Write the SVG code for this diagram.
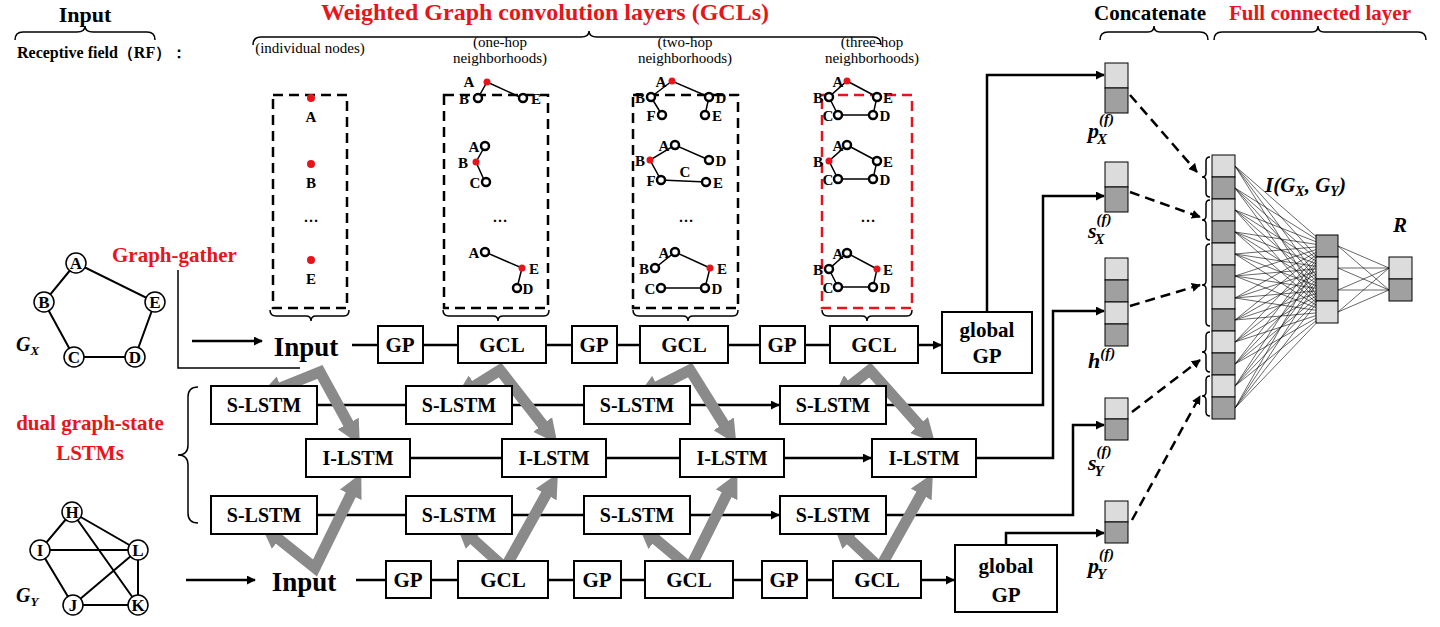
<svg xmlns="http://www.w3.org/2000/svg" width="1440" height="627" viewBox="0 0 1440 627">
<defs>
<style>
text{font-family:"Liberation Serif","Times New Roman",serif;font-weight:bold;fill:#000}
.red{fill:#e8141b}
.box{fill:#fff;stroke:#000;stroke-width:2}
.ln{fill:none;stroke:#000;stroke-width:2.5}
.thin{fill:none;stroke:#000;stroke-width:1.5}
.dash{fill:none;stroke:#000;stroke-width:2.5;stroke-dasharray:10 6}
.dashr{fill:none;stroke:#e8141b;stroke-width:2.5;stroke-dasharray:10 6}
.gray{fill:none;stroke:#8a8a8a;stroke-width:11;stroke-linejoin:miter}
.lt{fill:#dcdcdc;stroke:#000;stroke-width:1}
.dk{fill:#a0a0a0;stroke:#000;stroke-width:1}
.nd{fill:#fff;stroke:#000;stroke-width:2.5}
.rd{fill:#e8141b}
.fc{stroke:#000;stroke-width:0.6}
.g{font-size:15px}
</style>
<marker id="ah" viewBox="0 0 10 10" refX="9" refY="5" markerWidth="9" markerHeight="9" markerUnits="userSpaceOnUse" orient="auto"><path d="M0,0L10,5L0,10z" fill="#000"/></marker>
<marker id="gh" viewBox="0 0 10 10" refX="5" refY="5" markerWidth="24" markerHeight="24" markerUnits="userSpaceOnUse" orient="auto-start-reverse"><path d="M0,0L10,5L0,10z" fill="#8a8a8a"/></marker>
</defs>

<g id="headers">
<text x="85" y="22" font-size="22" text-anchor="middle">Input</text>
<path class="thin" d="M15,40 q0,-8 8,-8 h54 q8,0 8,-6 q0,6 8,6 h54 q8,0 8,8"/>
<text x="545" y="20" font-size="24" text-anchor="middle" class="red">Weighted Graph convolution layers (GCLs)</text>
<path class="thin" d="M253,45 q0,-8 8,-8 h320 q8,0 8,-6 q0,6 8,6 h276 q8,0 8,8"/>
<text x="17" y="58" font-size="16">Receptive field（RF）：</text>
<text x="310" y="53" font-size="15" font-weight="normal" text-anchor="middle" style="font-weight:normal">(individual nodes)</text>
<text x="500" y="47" font-size="15" text-anchor="middle" style="font-weight:normal">(one-hop</text>
<text x="500" y="63" font-size="15" text-anchor="middle" style="font-weight:normal">neighborhoods)</text>
<text x="685" y="47" font-size="15" text-anchor="middle" style="font-weight:normal">(two-hop</text>
<text x="685" y="63" font-size="15" text-anchor="middle" style="font-weight:normal">neighborhoods)</text>
<text x="872" y="47" font-size="15" text-anchor="middle" style="font-weight:normal">(three-hop</text>
<text x="872" y="63" font-size="15" text-anchor="middle" style="font-weight:normal">neighborhoods)</text>
<text x="1150" y="20" font-size="21" text-anchor="middle">Concatenate</text>
<text x="1320" y="20" font-size="21" text-anchor="middle" class="red">Full connected layer</text>
<path class="thin" d="M1100,40 q0,-8 8,-8 h40 q6,0 6,-6 q0,6 6,6 h40 q8,0 8,8"/>
<path class="thin" d="M1214,40 q0,-8 8,-8 h90 q6,0 6,-6 q0,6 6,6 h94 q8,0 8,8"/>
<text x="112" y="262" font-size="21" class="red">Graph-gather</text>
<text x="90" y="430" font-size="21" class="red" text-anchor="middle">dual graph-state</text>
<text x="90" y="460" font-size="21" class="red" text-anchor="middle">LSTMs</text>
<path class="thin" d="M198,387 q-10,0 -10,10 v48 q0,10 -10,10 q10,0 10,10 v48 q0,10 10,10"/>
</g>

<g id="rf-boxes">
<rect class="dash" x="273" y="95" width="74" height="213"/>
<rect class="dash" x="444" y="95" width="104" height="213"/>
<rect class="dash" x="633" y="95" width="105" height="213"/>
<rect class="dashr" x="822" y="95" width="90" height="213"/>
<path class="thin" d="M270,310 q0,6 6,6 h30 q5,0 5,5 q0,-5 5,-5 h28 q5,0 5,-6"/>
<path class="thin" d="M443,310 q0,6 6,6 h44 q5,0 5,5 q0,-5 5,-5 h41 q5,0 5,-6"/>
<path class="thin" d="M633,310 q0,6 6,6 h44 q5,0 5,5 q0,-5 5,-5 h40 q5,0 5,-6"/>
<path class="thin" d="M822,310 q0,6 6,6 h34 q5,0 5,5 q0,-5 5,-5 h35 q5,0 5,-6"/>
<!-- box1 -->
<circle class="rd" cx="311" cy="98" r="4"/><text class="g" x="311" y="122" text-anchor="middle">A</text>
<circle class="rd" cx="311" cy="164" r="4"/><text class="g" x="311" y="188" text-anchor="middle">B</text>
<text class="g" x="311" y="222" text-anchor="middle">…</text>
<circle class="rd" cx="311" cy="260" r="4"/><text class="g" x="311" y="284" text-anchor="middle">E</text>
<text class="g" x="500" y="222" text-anchor="middle">…</text>
<text class="g" x="686" y="222" text-anchor="middle">…</text>
<text class="g" x="868" y="222" text-anchor="middle">…</text>
<!-- box2 g1 -->
<path class="thin" d="M478,98L487,82L522,98"/>
<circle class="rd" cx="487" cy="82" r="3.5"/><circle class="nd" cx="478" cy="98" r="4"/><circle class="nd" cx="523" cy="98" r="4"/>
<text class="g" x="469" y="87" text-anchor="middle">A</text><text class="g" x="464" y="104" text-anchor="middle">B</text><text class="g" x="536" y="104" text-anchor="middle">E</text>
<!-- box2 g2 -->
<path class="thin" d="M485,146L476,162L485,182"/>
<circle class="nd" cx="485" cy="146" r="4"/><circle class="rd" cx="476" cy="162" r="3.5"/><circle class="nd" cx="486" cy="182" r="4"/>
<text class="g" x="474" y="152" text-anchor="middle">A</text><text class="g" x="463" y="168" text-anchor="middle">B</text><text class="g" x="475" y="188" text-anchor="middle">C</text>
<!-- box2 g3 -->
<path class="thin" d="M485,252L522,268L517,288"/>
<circle class="nd" cx="485" cy="252" r="4"/><circle class="rd" cx="522" cy="268" r="3.5"/><circle class="nd" cx="517" cy="288" r="4"/>
<text class="g" x="474" y="258" text-anchor="middle">A</text><text class="g" x="534" y="274" text-anchor="middle">E</text><text class="g" x="528" y="294" text-anchor="middle">D</text>
<!-- box3 g1 -->
<path class="thin" d="M651,97L662,115M651,97L672,81L709,97L705,115"/>
<circle class="rd" cx="672" cy="81" r="3.5"/><circle class="nd" cx="651" cy="97" r="4"/><circle class="nd" cx="709" cy="97" r="4"/><circle class="nd" cx="662" cy="115" r="4"/><circle class="nd" cx="705" cy="115" r="4"/>
<text class="g" x="661" y="87" text-anchor="middle">A</text><text class="g" x="640" y="103" text-anchor="middle">B</text><text class="g" x="721" y="103" text-anchor="middle">D</text><text class="g" x="651" y="121" text-anchor="middle">F</text><text class="g" x="717" y="121" text-anchor="middle">E</text>
<!-- box3 g2 -->
<path class="thin" d="M709,160L675,145L650,160L661,180L706,182"/>
<circle class="nd" cx="675" cy="145" r="4"/><circle class="rd" cx="650" cy="160" r="3.5"/><circle class="nd" cx="709" cy="160" r="4"/><circle class="nd" cx="661" cy="180" r="4"/><circle class="nd" cx="706" cy="182" r="4"/>
<text class="g" x="664" y="151" text-anchor="middle">A</text><text class="g" x="640" y="166" text-anchor="middle">B</text><text class="g" x="721" y="166" text-anchor="middle">D</text><text class="g" x="651" y="186" text-anchor="middle">F</text><text class="g" x="685" y="177" text-anchor="middle">C</text><text class="g" x="718" y="188" text-anchor="middle">E</text>
<!-- box3 g3 -->
<path class="thin" d="M655,268L675,252L710,268L705,288L661,288"/>
<circle class="nd" cx="675" cy="252" r="4"/><circle class="nd" cx="655" cy="268" r="4"/><circle class="rd" cx="710" cy="268" r="3.5"/><circle class="nd" cx="661" cy="288" r="4"/><circle class="nd" cx="705" cy="288" r="4"/>
<text class="g" x="664" y="258" text-anchor="middle">A</text><text class="g" x="644" y="274" text-anchor="middle">B</text><text class="g" x="722" y="274" text-anchor="middle">E</text><text class="g" x="650" y="294" text-anchor="middle">C</text><text class="g" x="717" y="294" text-anchor="middle">D</text>
<!-- box4 -->
<g id="pent1">
<path class="thin" d="M847,81L877,97L873,115L838,115L829,97Z"/>
<circle class="rd" cx="847" cy="81" r="3.5"/><circle class="nd" cx="829" cy="97" r="4"/><circle class="nd" cx="877" cy="97" r="4"/><circle class="nd" cx="838" cy="115" r="4"/><circle class="nd" cx="873" cy="115" r="4"/>
<text class="g" x="838" y="87" text-anchor="middle">A</text><text class="g" x="818" y="103" text-anchor="middle">B</text><text class="g" x="888" y="103" text-anchor="middle">E</text><text class="g" x="828" y="121" text-anchor="middle">C</text><text class="g" x="885" y="121" text-anchor="middle">D</text>
</g>
<g transform="translate(0,64)">
<path class="thin" d="M847,81L877,97L873,115L838,115L829,97Z"/>
<circle class="nd" cx="847" cy="81" r="4"/><circle class="rd" cx="829" cy="97" r="3.5"/><circle class="nd" cx="877" cy="97" r="4"/><circle class="nd" cx="838" cy="115" r="4"/><circle class="nd" cx="873" cy="115" r="4"/>
<text class="g" x="838" y="87" text-anchor="middle">A</text><text class="g" x="818" y="103" text-anchor="middle">B</text><text class="g" x="888" y="103" text-anchor="middle">E</text><text class="g" x="828" y="121" text-anchor="middle">C</text><text class="g" x="885" y="121" text-anchor="middle">D</text>
</g>
<g transform="translate(0,172)">
<path class="thin" d="M847,81L877,97L873,115L838,115L829,97Z"/>
<circle class="nd" cx="847" cy="81" r="4"/><circle class="nd" cx="829" cy="97" r="4"/><circle class="rd" cx="877" cy="97" r="3.5"/><circle class="nd" cx="838" cy="115" r="4"/><circle class="nd" cx="873" cy="115" r="4"/>
<text class="g" x="838" y="87" text-anchor="middle">A</text><text class="g" x="818" y="103" text-anchor="middle">B</text><text class="g" x="888" y="103" text-anchor="middle">E</text><text class="g" x="828" y="121" text-anchor="middle">C</text><text class="g" x="885" y="121" text-anchor="middle">D</text>
</g>
</g>

<g id="graphs">
<path class="ln" d="M76,263L44,302L74,357H135L155,302Z" style="stroke-width:2"/>
<g font-size="17">
<circle class="nd" cx="76" cy="263" r="10" style="stroke-width:1.5"/><text x="76" y="269" text-anchor="middle" font-size="17">A</text>
<circle class="nd" cx="44" cy="302" r="10" style="stroke-width:1.5"/><text x="44" y="308" text-anchor="middle" font-size="17">B</text>
<circle class="nd" cx="155" cy="302" r="10" style="stroke-width:1.5"/><text x="155" y="308" text-anchor="middle" font-size="17">E</text>
<circle class="nd" cx="74" cy="357" r="10" style="stroke-width:1.5"/><text x="74" y="363" text-anchor="middle" font-size="17">C</text>
<circle class="nd" cx="135" cy="357" r="10" style="stroke-width:1.5"/><text x="135" y="363" text-anchor="middle" font-size="17">D</text>
</g>
<text x="16" y="351" font-size="20" font-style="italic">G<tspan font-size="13" dy="4">X</tspan></text>
<path class="ln" style="stroke-width:2" d="M72,512L40,550L73,605H138L138,550L72,512L138,605M40,550H138M73,605L138,550"/>
<circle class="nd" cx="72" cy="512" r="10" style="stroke-width:1.5"/><text x="72" y="518" text-anchor="middle" font-size="17">H</text>
<circle class="nd" cx="40" cy="550" r="10" style="stroke-width:1.5"/><text x="40" y="556" text-anchor="middle" font-size="17">I</text>
<circle class="nd" cx="138" cy="550" r="10" style="stroke-width:1.5"/><text x="138" y="556" text-anchor="middle" font-size="17">L</text>
<circle class="nd" cx="73" cy="605" r="10" style="stroke-width:1.5"/><text x="73" y="611" text-anchor="middle" font-size="17">J</text>
<circle class="nd" cx="138" cy="605" r="10" style="stroke-width:1.5"/><text x="138" y="611" text-anchor="middle" font-size="17">K</text>
<text x="16" y="602" font-size="20" font-style="italic">G<tspan font-size="13" dy="4">Y</tspan></text>
</g>

<g id="connectors">
<path class="ln" style="stroke-width:1.5" d="M178,270V368H300"/>
<path class="ln" marker-end="url(#ah)" d="M192,341H262"/>
<path class="ln" marker-end="url(#ah)" d="M186,580H255"/>
<path class="ln" marker-end="url(#ah)" d="M352,345H377M423,345H457M546,345H571M617,345H639M728,345H759M805,345H829M918,345H941"/>
<path class="ln" marker-end="url(#ah)" d="M356,580H385M431,580H457M548,580H573M621,580H644M733,580H761M807,580H832M921,580H954"/>
<path class="ln" marker-end="url(#ah)" d="M317,405H405M512,405H583M690,405H779"/>
<path class="ln" marker-end="url(#ah)" d="M410,458H501M606,458H679M784,458H871"/>
<path class="ln" marker-end="url(#ah)" d="M317,515H405M512,515H583M690,515H779"/>
<path class="ln" marker-end="url(#ah)" d="M987,312V75H1104"/>
<path class="ln" marker-end="url(#ah)" d="M886,405H1043V196H1104"/>
<path class="ln" marker-end="url(#ah)" d="M976,458H1053V311H1104"/>
<path class="ln" marker-end="url(#ah)" d="M886,515H1073V425H1104"/>
<path class="ln" marker-end="url(#ah)" d="M1006,545V533H1104"/>
<path class="dash" marker-end="url(#ah)" d="M1130,95L1197,172"/>
<path class="dash" marker-end="url(#ah)" d="M1130,192L1200,217"/>
<path class="dash" marker-end="url(#ah)" d="M1130,306L1200,285"/>
<path class="dash" marker-end="url(#ah)" d="M1132,412L1200,360"/>
<path class="dash" marker-end="url(#ah)" d="M1132,520L1200,396"/>
<g id="gray">
<polyline class="gray" marker-start="url(#gh)" marker-end="url(#gh)" points="270,392 320,372 354,434"/>
<polyline class="gray" marker-start="url(#gh)" marker-end="url(#gh)" points="465,392 500,370 550,434"/>
<polyline class="gray" marker-start="url(#gh)" marker-end="url(#gh)" points="647,392 690,370 730,434"/>
<polyline class="gray" marker-start="url(#gh)" marker-end="url(#gh)" points="842,392 870,370 927,434"/>
<polyline class="gray" marker-start="url(#gh)" marker-end="url(#gh)" points="270,532 315,568 356,484"/>
<polyline class="gray" marker-start="url(#gh)" marker-end="url(#gh)" points="465,532 505,568 552,484"/>
<polyline class="gray" marker-start="url(#gh)" marker-end="url(#gh)" points="647,532 690,568 732,484"/>
<polyline class="gray" marker-start="url(#gh)" marker-end="url(#gh)" points="842,532 880,568 927,484"/>
</g>
</g>

<g id="top-row">
<text x="306" y="356" font-size="27" text-anchor="middle">Input</text>
<rect class="box" x="378" y="326" width="45" height="37"/><text x="400" y="352" font-size="21" text-anchor="middle">GP</text>
<rect class="box" x="458" y="326" width="88" height="37"/><text x="502" y="352" font-size="21" text-anchor="middle">GCL</text>
<rect class="box" x="572" y="326" width="45" height="37"/><text x="594" y="352" font-size="21" text-anchor="middle">GP</text>
<rect class="box" x="640" y="326" width="88" height="37"/><text x="684" y="352" font-size="21" text-anchor="middle">GCL</text>
<rect class="box" x="760" y="326" width="45" height="37"/><text x="782" y="352" font-size="21" text-anchor="middle">GP</text>
<rect class="box" x="830" y="326" width="88" height="37"/><text x="874" y="352" font-size="21" text-anchor="middle">GCL</text>
<rect class="box" x="942" y="312" width="90" height="61"/><text x="987" y="337" font-size="21" text-anchor="middle">global</text><text x="987" y="363" font-size="21" text-anchor="middle">GP</text>
</g>
<g id="bottom-row">
<text x="304" y="591" font-size="27" text-anchor="middle">Input</text>
<rect class="box" x="386" y="561" width="45" height="37"/><text x="408" y="587" font-size="21" text-anchor="middle">GP</text>
<rect class="box" x="458" y="561" width="90" height="37"/><text x="503" y="587" font-size="21" text-anchor="middle">GCL</text>
<rect class="box" x="574" y="561" width="47" height="37"/><text x="597" y="587" font-size="21" text-anchor="middle">GP</text>
<rect class="box" x="645" y="561" width="88" height="37"/><text x="689" y="587" font-size="21" text-anchor="middle">GCL</text>
<rect class="box" x="762" y="561" width="45" height="37"/><text x="784" y="587" font-size="21" text-anchor="middle">GP</text>
<rect class="box" x="833" y="561" width="88" height="37"/><text x="877" y="587" font-size="21" text-anchor="middle">GCL</text>
<rect class="box" x="955" y="545" width="102" height="67"/><text x="1006" y="573" font-size="21" text-anchor="middle">global</text><text x="1006" y="602" font-size="21" text-anchor="middle">GP</text>
</g>
<g id="lstm">
<rect class="box" x="211" y="386" width="106" height="38"/><text x="264" y="412" font-size="20" text-anchor="middle">S-LSTM</text>
<rect class="box" x="406" y="386" width="106" height="38"/><text x="459" y="412" font-size="20" text-anchor="middle">S-LSTM</text>
<rect class="box" x="584" y="386" width="106" height="38"/><text x="637" y="412" font-size="20" text-anchor="middle">S-LSTM</text>
<rect class="box" x="780" y="386" width="106" height="38"/><text x="833" y="412" font-size="20" text-anchor="middle">S-LSTM</text>
<rect class="box" x="306" y="439" width="104" height="38"/><text x="358" y="465" font-size="20" text-anchor="middle">I-LSTM</text>
<rect class="box" x="502" y="439" width="104" height="38"/><text x="554" y="465" font-size="20" text-anchor="middle">I-LSTM</text>
<rect class="box" x="680" y="439" width="104" height="38"/><text x="732" y="465" font-size="20" text-anchor="middle">I-LSTM</text>
<rect class="box" x="872" y="439" width="104" height="38"/><text x="924" y="465" font-size="20" text-anchor="middle">I-LSTM</text>
<rect class="box" x="211" y="496" width="106" height="38"/><text x="264" y="522" font-size="20" text-anchor="middle">S-LSTM</text>
<rect class="box" x="406" y="496" width="106" height="38"/><text x="459" y="522" font-size="20" text-anchor="middle">S-LSTM</text>
<rect class="box" x="584" y="496" width="106" height="38"/><text x="637" y="522" font-size="20" text-anchor="middle">S-LSTM</text>
<rect class="box" x="780" y="496" width="106" height="38"/><text x="833" y="522" font-size="20" text-anchor="middle">S-LSTM</text>
</g>

<g id="features">
<rect class="lt" x="1105" y="63" width="23" height="25"/><rect class="dk" x="1105" y="88" width="23" height="25"/>
<text x="1088" y="138" font-size="22" font-style="italic">p<tspan font-size="15" dy="-14">(f)</tspan><tspan font-size="15" dx="-17" dy="20">X</tspan></text>
<rect class="lt" x="1105" y="162" width="23" height="25"/><rect class="dk" x="1105" y="187" width="23" height="25"/>
<text x="1088" y="238" font-size="22" font-style="italic">s<tspan font-size="15" dy="-14">(f)</tspan><tspan font-size="15" dx="-17" dy="20">X</tspan></text>
<rect class="lt" x="1105" y="258" width="23" height="22"/><rect class="dk" x="1105" y="280" width="23" height="22"/><rect class="lt" x="1105" y="302" width="23" height="22"/><rect class="dk" x="1105" y="324" width="23" height="22"/>
<text x="1088" y="368" font-size="22" font-style="italic">h<tspan font-size="15" dy="-10">(f)</tspan></text>
<rect class="lt" x="1105" y="398" width="23" height="21"/><rect class="dk" x="1105" y="419" width="23" height="21"/>
<text x="1088" y="470" font-size="22" font-style="italic">s<tspan font-size="15" dy="-14">(f)</tspan><tspan font-size="15" dx="-17" dy="20">Y</tspan></text>
<rect class="lt" x="1105" y="501" width="23" height="21"/><rect class="dk" x="1105" y="522" width="23" height="21"/>
<text x="1088" y="573" font-size="22" font-style="italic">p<tspan font-size="15" dy="-14">(f)</tspan><tspan font-size="15" dx="-17" dy="20">Y</tspan></text>
</g>

<g id="fc">
<g class="fc">
<path d="M1235,166L1327,246M1235,166L1327,268M1235,166L1327,290M1235,166L1327,312M1235,188L1327,246M1235,188L1327,268M1235,188L1327,290M1235,188L1327,312M1235,210L1327,246M1235,210L1327,268M1235,210L1327,290M1235,210L1327,312M1235,232L1327,246M1235,232L1327,268M1235,232L1327,290M1235,232L1327,312M1235,254L1327,246M1235,254L1327,268M1235,254L1327,290M1235,254L1327,312M1235,276L1327,246M1235,276L1327,268M1235,276L1327,290M1235,276L1327,312M1235,298L1327,246M1235,298L1327,268M1235,298L1327,290M1235,298L1327,312M1235,320L1327,246M1235,320L1327,268M1235,320L1327,290M1235,320L1327,312M1235,342L1327,246M1235,342L1327,268M1235,342L1327,290M1235,342L1327,312M1235,364L1327,246M1235,364L1327,268M1235,364L1327,290M1235,364L1327,312M1235,386L1327,246M1235,386L1327,268M1235,386L1327,290M1235,386L1327,312M1235,408L1327,246M1235,408L1327,268M1235,408L1327,290M1235,408L1327,312"/>
<path d="M1338,246L1389,268M1338,246L1389,290M1338,268L1389,268M1338,268L1389,290M1338,290L1389,268M1338,290L1389,290M1338,312L1389,268M1338,312L1389,290"/>
</g>
<rect class="lt" x="1212" y="155" width="23" height="22"/><rect class="dk" x="1212" y="177" width="23" height="22"/>
<rect class="lt" x="1212" y="199" width="23" height="22"/><rect class="dk" x="1212" y="221" width="23" height="22"/>
<rect class="lt" x="1212" y="243" width="23" height="22"/><rect class="dk" x="1212" y="265" width="23" height="22"/>
<rect class="lt" x="1212" y="287" width="23" height="22"/><rect class="dk" x="1212" y="309" width="23" height="22"/>
<rect class="lt" x="1212" y="331" width="23" height="22"/><rect class="dk" x="1212" y="353" width="23" height="22"/>
<rect class="lt" x="1212" y="375" width="23" height="22"/><rect class="dk" x="1212" y="397" width="23" height="22"/>
<path class="thin" d="M1210,157q-4,0-4,4v12q0,4-4,4q4,0 4,4v12q0,4 4,4M1210,200q-4,0-4,4v12q0,4-4,4q4,0 4,4v12q0,4 4,4M1210,244q-4,0-4,4v33q0,4-4,4q4,0 4,4v33q0,4 4,4M1210,332q-4,0-4,4v12q0,4-4,4q4,0 4,4v12q0,4 4,4M1210,376q-4,0-4,4v12q0,4-4,4q4,0 4,4v12q0,4 4,4"/>
<rect class="dk" x="1316" y="235" width="22" height="22"/><rect class="lt" x="1316" y="257" width="22" height="22"/><rect class="dk" x="1316" y="279" width="22" height="22"/><rect class="lt" x="1316" y="301" width="22" height="22"/>
<rect class="lt" x="1389" y="257" width="23" height="22"/><rect class="dk" x="1389" y="279" width="23" height="22"/>
<text x="1265" y="192" font-size="21" font-style="italic">I(G<tspan font-size="14" dy="4">X</tspan><tspan dy="-4">, G</tspan><tspan font-size="14" dy="4">Y</tspan><tspan dy="-4">)</tspan></text>
<text x="1393" y="232" font-size="21" font-style="italic">R</text>
</g>
</svg>
